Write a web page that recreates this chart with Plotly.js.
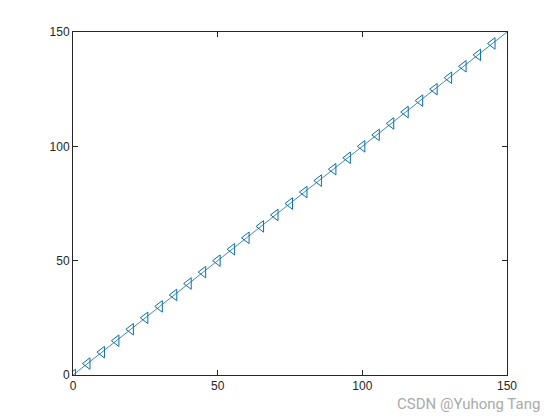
<!DOCTYPE html>
<html><head><meta charset="utf-8">
<script src="https://cdn.plot.ly/plotly-3.0.1.min.js"></script>
<style>body{margin:0;background:#fff}#c{width:560px;height:420px}</style>
</head><body><div id="c"></div>
<script>
var lineX = [0, 150];
var lineY = [0, 150];
var markX = [0,5,10,15,20,25,30,35,40,45,50,55,60,65,70,75,80,85,90,95,100,105,110,115,120,125,130,135,140,145];
var markY = [0,5,10,15,20,25,30,35,40,45,50,55,60,65,70,75,80,85,90,95,100,105,110,115,120,125,130,135,140,145];
var tickVals = [0,50,100,150];
var tickText = ['0','50','100','150'];
var blue = '#0a6ea8';
var data = [
  {x: lineX, y: lineY, mode: 'lines', line: {color: blue, width: 0.8}, hoverinfo:'skip'},
  {x: markX, y: markY, mode: 'markers', marker: {symbol: 'triangle-left-open', size: 10, color: blue, line:{width:1, color: blue}}}
];
var ax = {range:[0,150], tickvals: tickVals, ticktext: tickText, ticks:'inside', ticklen:5, tickcolor:'#262626',
  showline:true, linecolor:'#262626', linewidth:1, mirror:'ticks', showgrid:false, zeroline:false,
  tickfont:{family:'"Liberation Sans", Arial, sans-serif', size:12, color:'#262626'}};
var layout = {
  width:560, height:420, showlegend:false,
  margin:{l:73, r:53, t:32, b:45},
  paper_bgcolor:'#fff', plot_bgcolor:'#fff',
  xaxis: Object.assign({}, ax),
  yaxis: Object.assign({}, ax),
  annotations:[{text:'CSDN @Yuhong Tang', xref:'paper', yref:'paper', x:1.08, y:-0.052, xanchor:'right', yanchor:'top', showarrow:false,
    font:{family:'Roboto, "Noto Sans", sans-serif', size:15, color:'#aaaaaa'}}]
};
Plotly.newPlot('c', data, layout, {displayModeBar:false, staticPlot:true});
</script></body></html>
